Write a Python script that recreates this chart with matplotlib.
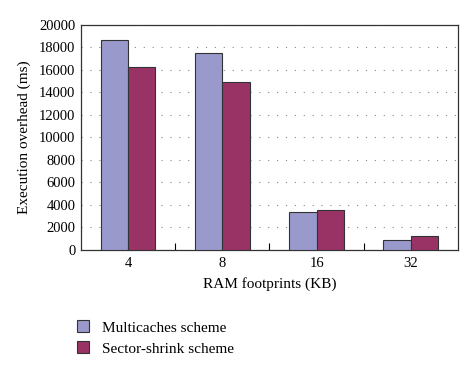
import numpy as np
import matplotlib
matplotlib.use('Agg')
import matplotlib.pyplot as plt

plt.rcParams['font.family'] = ['Liberation Serif', 'DejaVu Serif']

# 数据
ram_sizes = ['4', '8', '16', '32']
multicaches = [18700, 17500, 3400, 850]
sector_shrink = [16300, 14950, 3550, 1200]
y_ticks = [0, 2000, 4000, 6000, 8000, 10000, 12000, 14000, 16000, 18000, 20000]

color_multi = '#9999cc'
color_sector = '#993366'

fig = plt.figure(figsize=(4.74, 3.72), dpi=100)
ax = fig.add_axes([0.171, 0.328, 0.795, 0.605])

x = np.arange(len(ram_sizes))
w = 0.29
ax.bar(x - w / 2, multicaches, w, color=color_multi, edgecolor='#333333',
       linewidth=0.8, label='Multicaches scheme', zorder=3)
ax.bar(x + w / 2, sector_shrink, w, color=color_sector, edgecolor='#333333',
       linewidth=0.8, label='Sector-shrink scheme', zorder=3)

ax.set_xlim(-0.5, len(ram_sizes) - 0.5)
ax.set_ylim(0, 20000)
ax.set_yticks(y_ticks)
ax.set_yticklabels([str(t) for t in y_ticks], fontsize=10.5)
ax.set_xticks(x)
ax.set_xticklabels(ram_sizes, fontsize=10.5)
ax.tick_params(axis='x', which='major', length=0, pad=5)
ax.tick_params(axis='y', length=0, pad=4)

# 组间的小刻度
ax.set_xticks(x[:-1] + 0.5, minor=True)
ax.tick_params(axis='x', which='minor', direction='in', length=5, width=0.8)

# 点状网格
ax.yaxis.grid(True, linestyle=(0, (1, 7)), color='#888888', linewidth=0.8, zorder=0)
ax.set_axisbelow(True)

for s in ax.spines.values():
    s.set_color('#333333')
    s.set_linewidth(0.9)

ax.set_xlabel('RAM footprints (KB)', fontsize=11, labelpad=5)
ax.set_ylabel('Execution overhead (ms)', fontsize=11, labelpad=6)

handles, labels = ax.get_legend_handles_labels()
fig.legend(handles, labels, loc='upper left', bbox_to_anchor=(0.15, 0.155),
           frameon=False, fontsize=11, handlelength=0.8, handleheight=0.8,
           handletextpad=0.8, labelspacing=0.45, borderaxespad=0)

plt.savefig('out.png', dpi=100)
